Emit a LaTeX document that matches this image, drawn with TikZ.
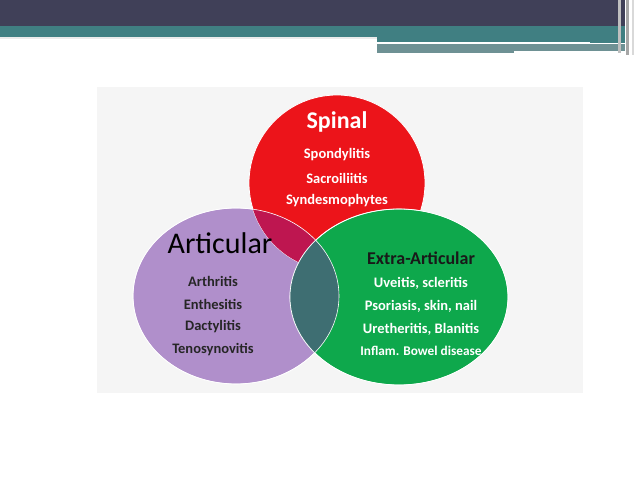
\documentclass[tikz,border=0pt]{standalone}
\usepackage{fontspec}
\setmainfont{Carlito}
\begin{document}
\begin{tikzpicture}[x=1pt,y=-1pt,
  item/.style={font=\bfseries\fontsize{14.5}{15}\selectfont,anchor=center,inner sep=0},
  ring/.style={draw=white,line width=0.8pt}]
\useasboundingbox (0,0) rectangle (638,478);
\fill[white] (0,0) rectangle (638,478);
% top bar
\fill[black!8] (0,37) rectangle (377,39);
\fill[color={rgb,255:red,64;green,127;blue,130}] (377,37) rectangle (625,43);
\fill[white] (377,42) rectangle (590,44);
\fill[color={rgb,255:red,110;green,145;blue,148}] (377,44) rectangle (625,53);
\fill[white] (514,51) rectangle (625,53);
\fill[color={rgb,255:red,64;green,127;blue,130}] (0,26) rectangle (625,37);
\fill[color={rgb,255:red,64;green,64;blue,88}] (0,0) rectangle (625,26);
\fill[black!25] (618,0) rectangle (621,53);
\fill[black!35] (626,0) rectangle (629,55);
\fill[black!15] (632,0) rectangle (634,55);
% panel
\fill[black!4] (97,87) rectangle (583,393);
\definecolor{cred}{RGB}{236,20,26}
\definecolor{cpur}{RGB}{176,143,203}
\definecolor{cgrn}{RGB}{14,168,76}
\definecolor{crp}{RGB}{190,22,80}
\definecolor{cpg}{RGB}{62,110,114}
\path[ring,fill=cpur] (236,296) ellipse [x radius=103,y radius=88];
\path[ring,fill=cred] (337,183) circle (88);
\begin{scope}
 \clip (236,296) ellipse [x radius=103,y radius=88];
 \fill[crp] (337,183) circle (88);
\end{scope}
\path[ring,fill=cgrn] (399,297) ellipse [x radius=109,y radius=88];
\begin{scope}
 \clip (236,296) ellipse [x radius=103,y radius=88];
 \fill[cpg] (399,297) ellipse [x radius=109,y radius=88];
\end{scope}
\draw[white,line width=0.6pt] (236,296) ellipse [x radius=103,y radius=88];
\draw[white,line width=0.6pt] (399,297) ellipse [x radius=109,y radius=88];
% texts
\node[item,white,font=\bfseries\fontsize{24}{25}\selectfont] (sp) at (337,122) {Spinal};
\node[item,white] (s1) at (337,155) {Spondylitis};
\node[item,white] (s2) at (337,178) {Sacroiliitis};
\node[item,white] (s3) at (337,201) {Syndesmophytes};
\node[item,black,font=\fontsize{30}{31}\selectfont] (ar) at (220,243) {Articular};
\node[item,black!85] (a1) at (213,281) {Arthritis};
\node[item,black!85] (a2) at (213,304) {Enthesitis};
\node[item,black!85] (a3) at (213,327) {Dactylitis};
\node[item,black!85] (a4) at (213,350) {Tenosynovitis};
\node[item,black!90,font=\bfseries\fontsize{18}{19}\selectfont] (ea) at (421,258) {Extra-Articular};
\node[item,white] (e1) at (421,283) {Uveitis, scleritis};
\node[item,white] (e2) at (421,306) {Psoriasis, skin, nail};
\node[item,white] (e3) at (421,329) {Uretheritis, Blanitis};
\node[item,white,font=\bfseries\fontsize{13.3}{14}\selectfont] (e4) at (421,351) {Inflam. Bowel disease};
\end{tikzpicture}
\end{document}
